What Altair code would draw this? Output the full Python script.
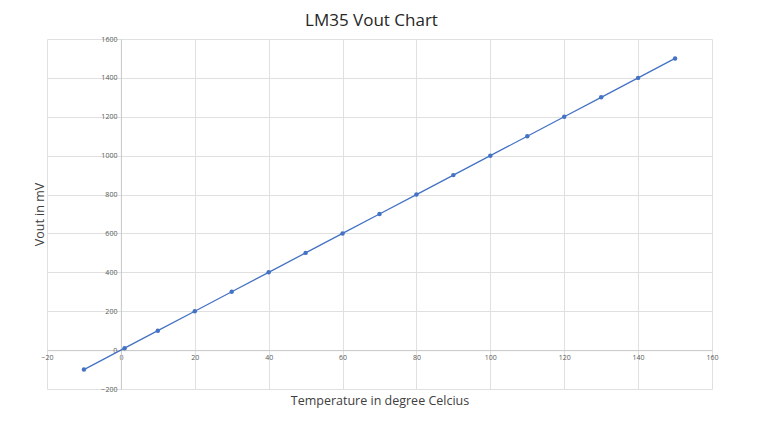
import altair as alt
import pandas as pd

# LM35 output: 10 mV per degree Celsius
temperature = [-10, 1, 10, 20, 30, 40, 50, 60, 70, 80, 90, 100, 110, 120, 130, 140, 150]
vout_mv = [-100, 10, 100, 200, 300, 400, 500, 600, 700, 800, 900, 1000, 1100, 1200, 1300, 1400, 1500]

x_ticks = [-20, 0, 20, 40, 60, 80, 100, 120, 140, 160]
y_ticks = [-200, 0, 200, 400, 600, 800, 1000, 1200, 1400, 1600]

df = pd.DataFrame({"temp": temperature, "vout": vout_mv})

W, H = 665, 350
blue = "#4472C4"
font = "Open Sans"

x_scale = alt.Scale(domain=[-20, 160], nice=False, zero=False)
y_scale = alt.Scale(domain=[-200, 1600], nice=False, zero=False)

# offsets that move the label axes onto the zero lines
x_zero_px = W * 20 / 180
y_zero_px = H * 200 / 1800

# grid + axis titles at the plot edges
grid_layer = alt.Chart(df).mark_line(color=blue, strokeWidth=1.3).encode(
    x=alt.X("temp:Q", scale=x_scale, axis=alt.Axis(
        values=x_ticks, grid=True, labels=False, ticks=False, domain=False,
        orient="bottom", title="Temperature in degree Celcius",
        titleFont=font, titleFontSize=12.5, titleFontWeight="normal",
        titleColor="#404040", titlePadding=5)),
    y=alt.Y("vout:Q", scale=y_scale, axis=alt.Axis(
        values=y_ticks, grid=True, labels=False, ticks=False, domain=False,
        orient="left", title="Vout in mV",
        titleFont=font, titleFontSize=12.5, titleFontWeight="normal",
        titleColor="#404040", titlePadding=1)),
)

# labels on the zero-crossing axes
label_layer = alt.Chart(df).mark_circle(color=blue, size=20, opacity=1).encode(
    x=alt.X("temp:Q", scale=x_scale, axis=alt.Axis(
        values=x_ticks, grid=False, ticks=False, domain=True, format="d",
        domainColor="#C8C8C8", orient="bottom", title=None,
        offset=-y_zero_px, labelPadding=3, labelFlush=False,
        labelFont=font, labelFontSize=7, labelColor="#595959")),
    y=alt.Y("vout:Q", scale=y_scale, axis=alt.Axis(
        values=y_ticks, grid=False, ticks=False, domain=True, format="d",
        domainColor="#C8C8C8", orient="left", title=None,
        offset=-x_zero_px, labelPadding=4,
        labelFont=font, labelFontSize=7, labelColor="#595959")),
    tooltip=["temp", "vout"],
)

chart = alt.layer(grid_layer, label_layer).resolve_axis(
    x="independent", y="independent"
).properties(
    width=W,
    height=H,
    autosize=alt.AutoSizeParams(type="none"),
    padding={"left": 39, "top": 31, "right": 48, "bottom": 35},
    title=alt.Title("LM35 Vout Chart", font=font, fontSize=17,
                    fontWeight="normal", color="#262626", offset=5, dx=-8),
).configure_axis(
    gridColor="#E0E0E0", gridWidth=1
).configure_view(
    stroke=None
)

chart.save("out.html", embed_options={"renderer": "svg", "actions": False})
